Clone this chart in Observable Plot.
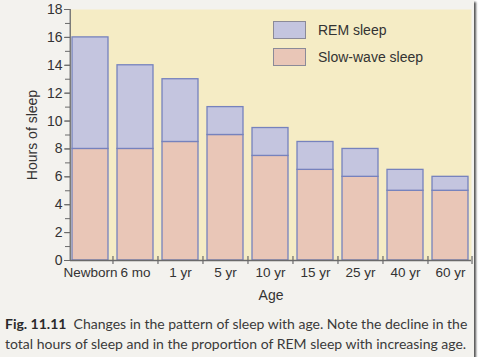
<!DOCTYPE html>
<html>
<head>
<meta charset="utf-8">
<script src="https://cdn.jsdelivr.net/npm/d3@7"></script>
<script src="https://cdn.jsdelivr.net/npm/@observablehq/plot@0.6"></script>
<style>
  html, body { margin: 0; padding: 0; background: #ffffff; }
  #page {
    position: relative; width: 474px; height: 357px; background: #f3f2ee;
    box-shadow: 2px 2px 2px #555; overflow: hidden;
    font-family: "Liberation Sans", Arial, sans-serif; color: #333;
  }
  #chart { position: absolute; left: 0; top: 0; }
  #chart svg text { font-size: 14px; fill: #333; }
  #chart svg g[aria-label="x-axis tick label"] text { font-size: 13.5px; }
  .legend { position: absolute; left: 273px; font-size: 14px; color: #333; }
  .legend .sw { position: absolute; left: 0; width: 31px; height: 16px; border: 1px solid #8b8a98; }
  .legend .lb { position: absolute; left: 45px; white-space: nowrap; }
  #caption { position: absolute; left: 5px; top: 314px; font-family: Lato, "Open Sans", sans-serif;
    font-size: 14px; line-height: 20px; color: #3a3a3a; white-space: nowrap; }
  #caption b { font-weight: 700; color: #2a2a2a; }
</style>
</head>
<body>
<div id="page">
  <div id="chart"></div>
  <div class="legend" id="legend"></div>
  <div id="caption">
    <div><b>Fig. 11.11</b>&nbsp; Changes in the pattern of sleep with age. Note the decline in the</div>
    <div>total hours of sleep and in the proportion of REM sleep with increasing age.</div>
  </div>
</div>
<script>
const categories = ["Newborn", "6 mo", "1 yr", "5 yr", "10 yr", "15 yr", "25 yr", "40 yr", "60 yr"];
const slowWave = [8, 8, 8.5, 9, 7.5, 6.5, 6, 5, 5];
const rem = [8, 6, 4.5, 2, 2, 2, 2, 1.5, 1];
const seriesNames = ["Slow-wave sleep", "REM sleep"];
const seriesColors = ["#e9c6b7", "#c4c5df"];
const yTicks = d3.range(0, 19, 1);
const yLabels = d3.range(0, 19, 2);

const rows = [];
categories.forEach((c, i) => {
  rows.push({age: c, series: seriesNames[0], hours: slowWave[i]});
  rows.push({age: c, series: seriesNames[1], hours: rem[i]});
});

const W = 474, H = 306, ML = 70, MR = 3, MT = 9, MB = 46;
const pIn = 0.2, pOut = 0.05;
const step = (W - ML - MR) / (categories.length - pIn + 2 * pOut);
const bw = step * (1 - pIn);

const chart = Plot.plot({
  width: W, height: H,
  marginLeft: ML, marginRight: MR, marginTop: MT, marginBottom: MB,
  style: {background: "transparent", fontFamily: "Liberation Sans, Arial, sans-serif", fontSize: "14px", color: "#333"},
  x: {domain: categories, paddingInner: pIn, paddingOuter: pOut, label: null},
  y: {domain: [0, 18], label: null},
  color: {domain: seriesNames, range: seriesColors},
  marks: [
    Plot.frame({fill: "#f5ecc5", stroke: "none"}),
    Plot.barY(rows, Plot.stackY({x: "age", y: "hours", fill: "series", stroke: "#7682bd", strokeWidth: 1.3, order: seriesNames})),
    Plot.ruleY([0], {stroke: "#6a6a6a", strokeWidth: 1.3}),
    Plot.ruleX([categories[0]], {dx: -(bw / 2 + pOut * step), stroke: "#6a6a6a", strokeWidth: 1.3}),
    Plot.ruleX(categories.slice(1), {y1: 0, y2: 0, dx: -step / 2, insetTop: -4, insetBottom: -4, stroke: "#6a6a6a", strokeWidth: 1.2}),
    Plot.ruleX([categories[categories.length - 1]], {y1: 0, y2: 0, dx: step / 2 - 1, insetTop: -4, insetBottom: -4, stroke: "#6a6a6a", strokeWidth: 1.2}),
    Plot.axisY({ticks: yTicks, tickFormat: () => "", tickSize: 5, stroke: "#6a6a6a", label: null}),
    Plot.axisY({ticks: yLabels, tickSize: 6, tickPadding: 2, stroke: "#6a6a6a",
      label: "Hours of sleep", labelAnchor: "center", labelArrow: "none", labelOffset: 43}),
    Plot.axisX({tickSize: 0, tickPadding: 7,
      label: "Age", labelAnchor: "center", labelArrow: "none", labelOffset: 39})
  ]
});
document.getElementById("chart").appendChild(chart);

// legend (REM on top, slow-wave below)
const legend = document.getElementById("legend");
[[1, 21], [0, 48]].forEach(([k, top]) => {
  const sw = document.createElement("div");
  sw.className = "sw";
  sw.style.top = top + "px";
  sw.style.background = seriesColors[k];
  legend.appendChild(sw);
  const lb = document.createElement("div");
  lb.className = "lb";
  lb.style.top = (top + 1) + "px";
  lb.textContent = seriesNames[k];
  legend.appendChild(lb);
});
</script>
</body>
</html>
